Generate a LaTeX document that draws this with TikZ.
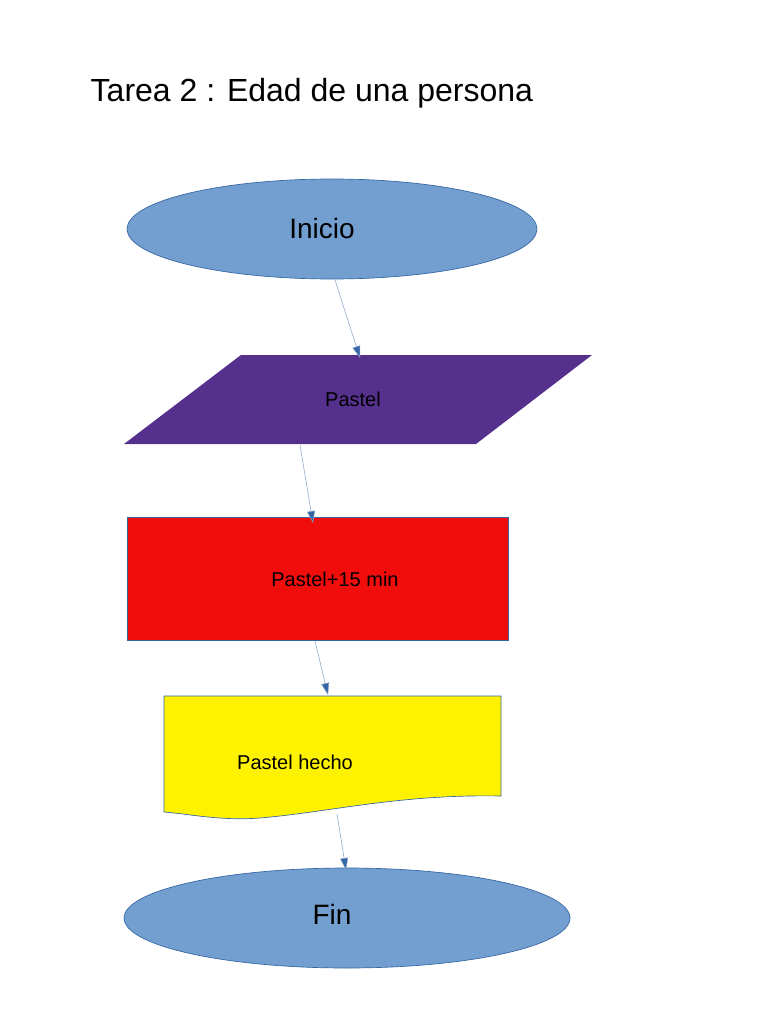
\documentclass[tikz,border=0pt]{standalone}
\usepackage{fontspec}
\setmainfont{Liberation Sans}
\usetikzlibrary{arrows.meta}
\definecolor{ebl}{HTML}{729FCF}
\definecolor{edg}{HTML}{3465A4}
\definecolor{pur}{HTML}{55308D}
\definecolor{rd}{HTML}{F10D0C}
\begin{document}
\begin{tikzpicture}[x=0.75pt,y=-0.75pt,
  conn/.style={draw=edg!60,line width=0.4pt,-{Triangle[length=9pt,width=6pt,fill=edg]}},
  shp/.style={draw=edg,line width=0.5pt}]
\useasboundingbox (0,0) rectangle (768,1024);
\node[anchor=base west,font=\fontsize{24}{28}\selectfont] (title) at (86,102) {Tarea 2 : Edad de una persona};
\draw[shp,fill=ebl] (332,229) ellipse [x radius=205,y radius=50];
\node[font=\fontsize{21}{25}\selectfont] (ini) at (322,228) {Inicio};
\fill[pur] (241,355) -- (592,355) -- (476,444) -- (124,444) -- cycle;
\node[font=\fontsize{15}{18}\selectfont] (pas) at (353,399) {Pastel};
\draw[shp,fill=rd] (127,517) rectangle (508,640);
\node[font=\fontsize{15}{18}\selectfont] (pro) at (335,579) {Pastel+15 min};
\draw[shp,fill=yellow] (164,696) -- (501,696) -- (501,796) .. controls (400,794) and (330,812) .. (260,818) .. controls (220,821) and (190,814) .. (164,812) -- cycle;
\node[font=\fontsize{15}{18}\selectfont] (doc) at (295,762) {Pastel hecho};
\draw[shp,fill=ebl] (347,918) ellipse [x radius=223,y radius=50];
\node[font=\fontsize{21}{25}\selectfont] (fin) at (332,914) {Fin};
\coordinate (a1) at (335,280); \coordinate (a2) at (360,358);
\coordinate (b1) at (300,445); \coordinate (b2) at (313,523);
\coordinate (c1) at (315,641); \coordinate (c2) at (328,695);
\coordinate (d1) at (337,814); \coordinate (d2) at (346,870);
\draw[conn] (a1) -- (a2);
\draw[conn] (b1) -- (b2);
\draw[conn] (c1) -- (c2);
\draw[conn] (d1) -- (d2);
\end{tikzpicture}
\end{document}
